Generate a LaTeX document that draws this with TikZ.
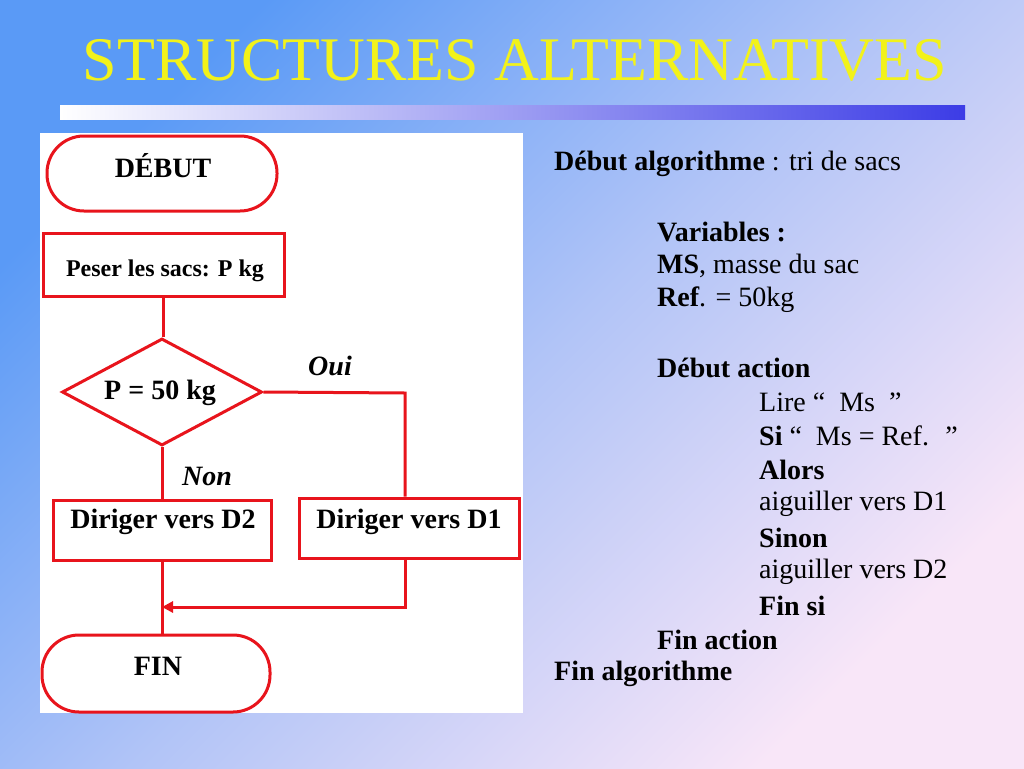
\documentclass[tikz,border=0pt]{standalone}
\usepackage{fontspec}
\setmainfont{Liberation Serif}
\usetikzlibrary{shapes.geometric,arrows.meta}
\definecolor{fr}{HTML}{E8141C}
\definecolor{ttl}{HTML}{F2F21A}
\definecolor{bgA}{HTML}{5A9AF6}
\definecolor{bgB}{HTML}{F8E6F8}
\definecolor{barB}{HTML}{3C3CE6}
\begin{document}
\begin{tikzpicture}[x=1pt,y=-1pt,
  box/.style={draw=fr,line width=3pt,fill=white,inner sep=0pt},
  term/.style={box,rounded corners=37pt},
  wire/.style={draw=fr,line width=3pt},
  lab/.style={font=\fontsize{28}{32}\selectfont\bfseries,inner sep=0pt},
  rt/.style={anchor=west,font=\fontsize{28}{32}\selectfont,inner sep=0pt}]
\useasboundingbox (0,0) rectangle (1024,768);
\shade[top color=bgA,bottom color=bgB,middle color=bgA!45!bgB,shading angle=45] (0,0) rectangle (1024,768);
\node[font=\fontsize{62}{64}\selectfont,text=ttl] (title) at (515,60) {STRUCTURES ALTERNATIVES};
\shade[left color=white,right color=barB] (60,105) rectangle (965,119);
\fill[white] (40,133) rectangle (523,713);
% flowchart
\node[term,minimum width=230pt,minimum height=75pt] (deb) at (162,173.5) {};
\node[box,minimum width=241pt,minimum height=63pt] (pes) at (163.5,264.5) {};
\node[box,diamond,aspect=1.87,minimum width=200pt,minimum height=107pt] (dia) at (162,392) {};
\node[box,minimum width=218pt,minimum height=60pt] (d2) at (162,530) {};
\node[box,minimum width=220pt,minimum height=60pt] (d1) at (409,528) {};
\node[term,minimum width=228pt,minimum height=77pt] (fin) at (156,673.5) {};
\node[lab] (ldeb) at (163,166) {DÉBUT};
\node[lab,font=\fontsize{24}{28}\selectfont\bfseries] (lpes) at (165,271) {Peser les sacs: P kg};
\node[lab] (ldia) at (160,393) {P = 50 kg};
\node[lab] (ld2) at (163,522) {Diriger vers D2};
\node[lab] (ld1) at (409,522) {Diriger vers D1};
\node[lab] (lfin) at (158,666) {FIN};
\coordinate (c1) at (405,393);
\coordinate (c2) at (405,607);
\coordinate (c3) at (162,607);
\draw[wire] (pes.south) -- (pes.south |- dia.north);
\draw[wire] (dia.east) -- (c1) -- (c1 |- d1.north);
\draw[wire] (dia.south) -- (d2.north);
\draw[wire] (d2.south) -- (d2.south |- fin.north);
\draw[wire,-{Triangle[length=11pt,width=11pt]}] (d1.south -| c1) -- (c2) -- (c3);
\node[font=\fontsize{28}{32}\selectfont\bfseries\itshape] (oui) at (330,366) {Oui};
\node[font=\fontsize{28}{32}\selectfont\bfseries\itshape] (non) at (207,476) {Non};
% right text
\node[rt] (t1) at (554,164) {\textbf{Début algorithme} : tri de sacs};
\node[rt] (t2) at (657,232) {\textbf{Variables :}};
\node[rt] (t3) at (657,266) {\textbf{MS}, masse du sac};
\node[rt] (t4) at (657,300) {\textbf{Ref}. = 50kg};
\node[rt] (t5) at (657,368) {\textbf{Début action}};
\node[rt] (t6) at (759,402) {Lire “~ Ms~ ”};
\node[rt] (t7) at (759,436) {\textbf{Si} “~ Ms = Ref.~ ”};
\node[rt] (t8) at (759,470) {\textbf{Alors}};
\node[rt] (t9) at (759,504) {aiguiller vers D1};
\node[rt] (t10) at (759,538) {\textbf{Sinon}};
\node[rt] (t11) at (759,572) {aiguiller vers D2};
\node[rt] (t12) at (759,606) {\textbf{Fin si}};
\node[rt] (t13) at (657,640) {\textbf{Fin action}};
\node[rt] (t14) at (554,674) {\textbf{Fin algorithme}};
\end{tikzpicture}
\end{document}
